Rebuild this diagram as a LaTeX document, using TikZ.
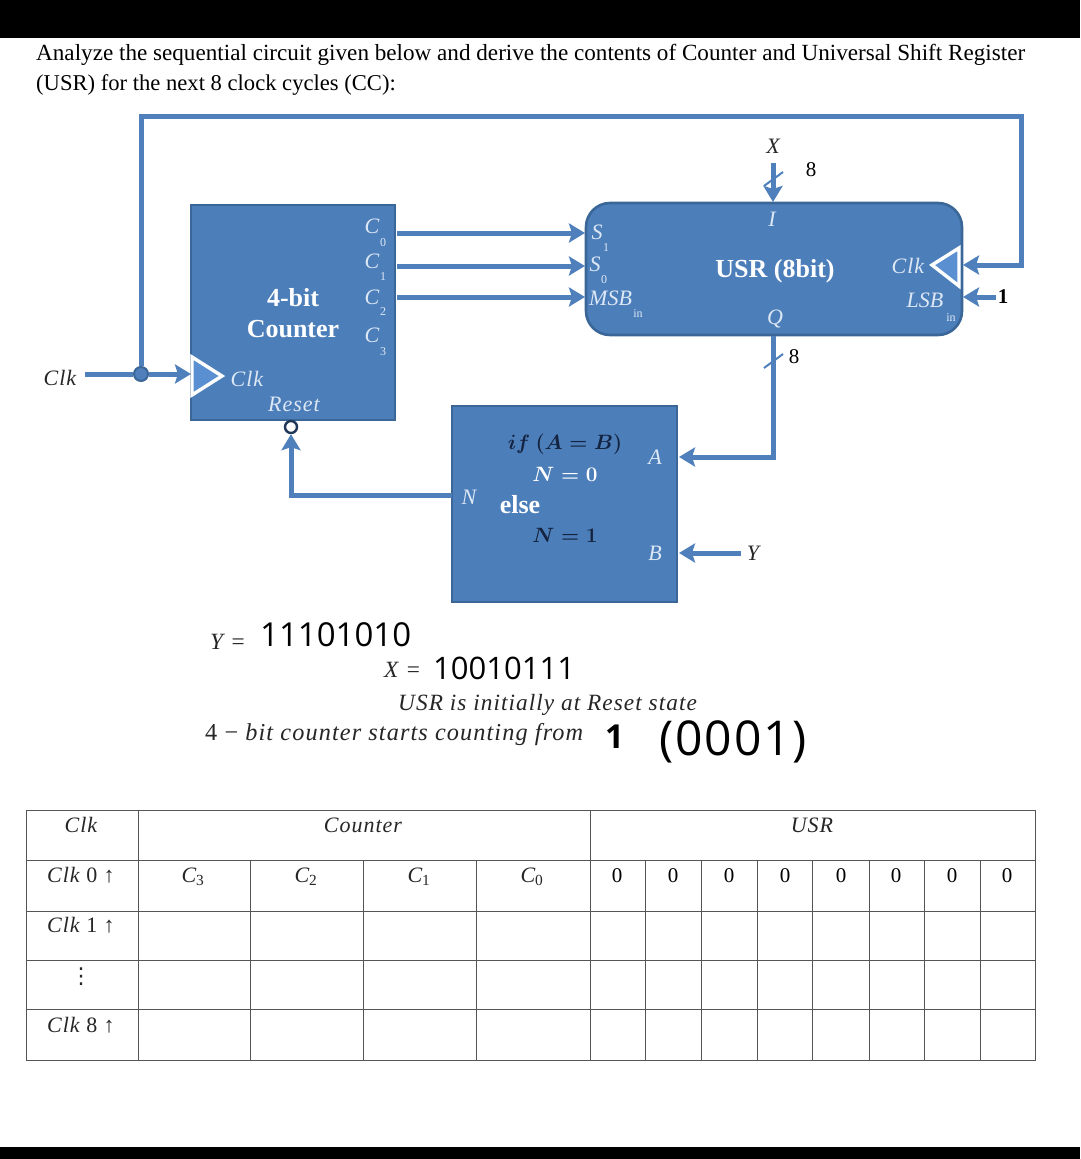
\documentclass[tikz,border=0pt]{standalone}
\usepackage{fontspec}
\setmainfont{Liberation Serif}
\newfontfamily\handfont{Open Sans}
\newfontfamily\notefont[LetterSpace=4.5]{Liberation Serif}
\newfontfamily\dotsfont{DejaVu Sans}
\usepackage{amsmath}
\usetikzlibrary{arrows.meta, positioning}
\definecolor{usrBlue}{HTML}{4C7EBA}
\definecolor{usrEdge}{HTML}{3B6698}
\definecolor{usrWire}{HTML}{4F80BB}
\definecolor{usrPale}{HTML}{DDE8F5}
\definecolor{usrDark}{HTML}{14233F}
\definecolor{usrPin}{HTML}{5A90D2}
\definecolor{usrGrid}{HTML}{555555}
\tikzset{
  wire/.style      = {usrWire, line width=5pt},
  arrowwire/.style = {wire, -{Stealth[length=16pt, width=19pt, inset=3pt]}},
  buswire/.style   = {usrWire, line width=2pt},
  blockbox/.style  = {draw=usrEdge, fill=usrBlue, line width=2.6pt, inner sep=0pt, outer sep=0pt},
  clkpin/.style    = {draw=white, fill=usrPin, line width=3.4pt, line join=miter},
  pinlbl/.style    = {usrPale, inner sep=0pt, font=\fontsize{22}{26}\itshape\selectfont},
  clklbl/.style    = {usrPale, inner sep=0pt, font=\notefont\fontsize{22}{26}\itshape\selectfont},
  sublbl/.style    = {usrPale, inner sep=0pt, font=\fontsize{12}{14}\selectfont},
  whitelbl/.style  = {white, inner sep=0pt, font=\fontsize{26}{30}\bfseries\selectfont},
  condlbl/.style   = {inner sep=0pt, font=\fontsize{21.5}{26}\bfseries\selectfont\boldmath},
  lbl/.style       = {black, inner sep=0pt, font=\fontsize{21}{25}\selectfont},
  notelbl/.style   = {black!85, inner sep=0pt, anchor=base west, font=\notefont\fontsize{23.3}{27}\itshape\selectfont},
  headlbl/.style   = {black, inner sep=0pt, anchor=base west, font=\fontsize{23.14}{27}\selectfont},
  hand/.style      = {black, inner sep=0pt, anchor=base west, font=\handfont},
  cell/.style      = {black!85, inner sep=0pt, font=\notefont\fontsize{22}{26}\itshape\selectfont},
  gridline/.style  = {usrGrid, line width=1pt},
}
\begin{document}
\begin{tikzpicture}[x=1pt, y=-1pt]
  \useasboundingbox (0,0) rectangle (1080,1159);
  \fill[white] (0,0) rectangle (1080,1159);
  \fill[black] (0,0) rectangle (1080,38);
  \fill[black] (0,1147) rectangle (1080,1159);
  % question text
  \node[headlbl] (line1) at (36,60) {Analyze the sequential circuit given below and derive the contents of Counter and Universal Shift Register};
  \node[headlbl, font=\fontsize{22.6}{27}\selectfont] (line2) at (36,90) {(USR) for the next 8 clock cycles (CC):};
  % blocks
  \node[blockbox, anchor=north west, minimum width=204pt, minimum height=215pt] (counter) at (191,205) {};
  \node[blockbox, anchor=north west, minimum width=376pt, minimum height=132pt, rounded corners=24pt] (usr) at (586,203) {};
  \node[blockbox, anchor=north west, minimum width=225pt, minimum height=196pt] (comp) at (452,406) {};
  % clock pins
  \draw[clkpin] (192,357) -- (222,376) -- (192,395) -- cycle;
  \draw[clkpin] (959,248) -- (932,265) -- (959,286) -- cycle;
  % counter labels
  \node[whitelbl] (cnt1) at (293,298) {4-bit};
  \node[whitelbl] (cnt2) at (293,329) {Counter};
  \node[pinlbl] (c0) at (372,226) {C};
  \node[sublbl] (c0s) at (383,243) {0};
  \node[pinlbl] (c1) at (372,261) {C};
  \node[sublbl] (c1s) at (383,277) {1};
  \node[pinlbl] (c2) at (372,297) {C};
  \node[sublbl] (c2s) at (383,312) {2};
  \node[pinlbl] (c3) at (372,335) {C};
  \node[sublbl] (c3s) at (383,352) {3};
  \node[clklbl] (cclk) at (247,379) {Clk};
  \node[clklbl] (creset) at (294,404) {Reset};
  % usr labels
  \node[pinlbl] (s1) at (597,232) {S};
  \node[sublbl] (s1s) at (606,248) {1};
  \node[pinlbl] (s0) at (595,264) {S};
  \node[sublbl] (s0s) at (604,280) {0};
  \node[pinlbl, anchor=west] (msb) at (589,298) {MSB};
  \node[sublbl] (msbs) at (638,314) {in};
  \node[pinlbl] (ipin) at (772,219) {I};
  \node[whitelbl] (usrname) at (775,271) {USR (8bit)};
  \node[clklbl] (uclk) at (908,266) {Clk};
  \node[pinlbl] (lsb) at (925,300) {LSB};
  \node[sublbl] (lsbs) at (951,318) {in};
  \node[pinlbl] (qpin) at (775,319) {Q};
  % comparator labels
  \node[condlbl, usrDark] (cmp1) at (565,444) {$if\ (A = B)$};
  \node[condlbl, white] (cmp2) at (565,474) {$N = 0$};
  \node[whitelbl] (cmp3) at (520,505) {else};
  \node[condlbl, usrDark] (cmp4) at (565,535) {$N = 1$};
  \node[pinlbl] (npin) at (469,497) {N};
  \node[pinlbl] (apin) at (655,457) {A};
  \node[pinlbl] (bpin) at (655,553) {B};
  % outside labels
  \node[cell] (clk) at (60,378) {Clk};
  \node[cell] (x) at (773,146) {X};
  \node[lbl] (xn) at (811,170) {8};
  \node[lbl] (qn) at (794,357) {8};
  \node[lbl, font=\fontsize{21}{25}\bfseries\selectfont] (one) at (1003,297) {1};
  \node[cell] (y) at (753,553) {Y};
  % clock and feedback
  \node[circle, draw=usrEdge, fill=usrWire, line width=2pt, minimum size=14pt, inner sep=0pt] (tap) at (141,374) {};
  \coordinate (cnt clk) at (191,374);
  \coordinate (usr clk) at (963,265);
  \draw[wire] (clk.east) ++(9,-4) -- (tap);
  \draw[arrowwire] (tap) -- (cnt clk);
  \draw[arrowwire] (tap) |- (1021,116) |- (usr clk);
  % counter to usr
  \coordinate (c0out) at (397,233);
  \coordinate (c1out) at (397,266);
  \coordinate (c2out) at (397,297);
  \draw[arrowwire] (c0out) -- (585,233);
  \draw[arrowwire] (c1out) -- (585,266);
  \draw[arrowwire] (c2out) -- (585,297);
  % data bus, 8 bit
  \coordinate (xtop) at (773,163);
  \coordinate (xend) at (773,202);
  \coordinate (qtop) at (773,336);
  \coordinate (aend) at (679,457);
  \draw[arrowwire] (xtop) -- (xend);
  \draw[buswire] (764,186) -- (783,172);
  \draw[arrowwire] (qtop) |- (aend);
  \draw[buswire] (764,368) -- (783,354);
  % single inputs
  \coordinate (lsbend) at (963,297);
  \coordinate (bend) at (679,553);
  \draw[arrowwire] (one.west) ++(-2,0) -- (lsbend);
  \draw[arrowwire] (y.west) ++(-6,0) -- (bend);
  % reset, with bubble
  \node[circle, draw=usrDark!70!usrEdge, fill=white, line width=2.4pt, minimum size=12pt, inner sep=0pt] (bubble) at (291,427) {};
  \coordinate (nout) at (452,495);
  \draw[arrowwire] (nout) -| (bubble.south);
  % given values
  \node[notelbl] (yeq) at (210,649) {Y =};
  \node[hand, font=\handfont\fontsize{33}{36}\selectfont] (yval) at (260,646) {11101010};
  \node[notelbl] (xeq) at (384,677) {X =};
  \node[hand, font=\handfont\fontsize{31}{36}\selectfont] (xval) at (433,679) {10010111};
  \node[notelbl] (note1) at (398,710) {USR is initially at Reset state};
  \node[notelbl, font=\notefont\fontsize{24.3}{28}\itshape\selectfont] (note2) at (205,740) {{\upshape 4} {\upshape−} bit counter starts counting from};
  \node[hand, font=\handfont\bfseries\fontsize{33}{36}\selectfont] (start1) at (605,748) {1};
  \node[hand, font=\handfont\fontsize{48}{52}\selectfont\addfontfeature{LetterSpace=4}] (start2) at (659,755) {(0001)};
  % table
  \draw[gridline] (26,810) rectangle (1035,1060);
  \draw[gridline] (26,860) -- (1035,860);
  \draw[gridline] (26,911) -- (1035,911);
  \draw[gridline] (26,960) -- (1035,960);
  \draw[gridline] (26,1009) -- (1035,1009);
  \draw[gridline] (138,810) -- (138,1060);
  \draw[gridline] (590,810) -- (590,1060);
  \draw[gridline] (250.5,860) -- (250.5,1060);
  \draw[gridline] (363,860) -- (363,1060);
  \draw[gridline] (476,860) -- (476,1060);
  \draw[gridline] (645,860) -- (645,1060);
  \draw[gridline] (701,860) -- (701,1060);
  \draw[gridline] (757,860) -- (757,1060);
  \draw[gridline] (812,860) -- (812,1060);
  \draw[gridline] (869,860) -- (869,1060);
  \draw[gridline] (924,860) -- (924,1060);
  \draw[gridline] (980,860) -- (980,1060);
  \node[cell] (thclk) at (81,825) {Clk};
  \node[cell] (thcnt) at (363,825) {Counter};
  \node[cell] (thusr) at (812,825) {USR};
  \node[cell] (row0) at (81,875) {Clk {\upshape 0 ↑}};
  \node[cell] (row1) at (81,925) {Clk {\upshape 1 ↑}};
  \node[cell, font=\dotsfont\fontsize{22}{26}\selectfont] (row2) at (81,977) {⋮};
  \node[cell] (row3) at (81,1025) {Clk {\upshape 8 ↑}};
  \node[cell] (h3) at (193,877) {C\textsubscript{\upshape 3}};
  \node[cell] (h2) at (306,877) {C\textsubscript{\upshape 2}};
  \node[cell] (h1) at (419,877) {C\textsubscript{\upshape 1}};
  \node[cell] (h0) at (532,877) {C\textsubscript{\upshape 0}};
  \node[lbl] (b7) at (617,876) {0};
  \node[lbl] (b6) at (673,876) {0};
  \node[lbl] (b5) at (729,876) {0};
  \node[lbl] (b4) at (785,876) {0};
  \node[lbl] (b3) at (841,876) {0};
  \node[lbl] (b2) at (896,876) {0};
  \node[lbl] (b1) at (952,876) {0};
  \node[lbl] (b0) at (1007,876) {0};
\end{tikzpicture}
\end{document}
